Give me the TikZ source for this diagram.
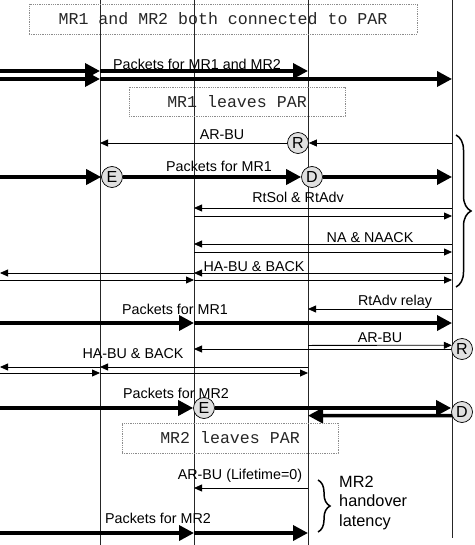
\documentclass[tikz,border=0pt]{standalone}
\usepackage{fontspec}
\setmainfont{Liberation Sans}
\setmonofont{Liberation Mono}
\usetikzlibrary{arrows.meta,decorations.pathreplacing}

\tikzset{
  lifeline/.style={line width=0.8pt, draw=black!85},
  msg/.style={line width=0.8pt, -{Triangle[length=8pt,width=7pt]}},
  data/.style={line width=3.5pt, -{Triangle[length=15pt,width=15pt]}},
  ev/.style={circle, draw, line width=0.7pt, fill=black!12, minimum size=21pt, inner sep=0pt, font=\fontsize{16}{16}\selectfont},
  lbl/.style={inner sep=0pt, font=\fontsize{14.3}{16}\selectfont},
  note/.style={draw=black!45, densely dotted, line width=0.8pt, inner sep=0pt, text=black!85, font=\ttfamily\fontsize{16.6}{18}\selectfont},
  brc/.style={decorate, decoration={brace, amplitude=#1}, line width=1.5pt},
}

\begin{document}
\begin{tikzpicture}[x=1pt,y=-1pt]
\useasboundingbox (0,0) rectangle (474,545);
\def\xa{100}
\def\xb{194}
\def\xc{308}
\def\xd{452}
\foreach \x/\yend in {\xa/545,\xb/545,\xc/545,\xd/538} \draw[lifeline] (\x,0) -- (\x,\yend);

% both on PAR
\node[note, minimum width=388pt, minimum height=30pt] (par) at (223,19) {MR1 and MR2 both connected to PAR};
\node[lbl] (pk12) at (197,64) {Packets for MR1 and MR2};
\draw[data] (0,71) -- (\xa,71);
\draw[data] (\xa,71) -- (\xc,71);
\draw[data] (0,79) -- (\xa,79);
\draw[data] (\xa,79) -- (\xd,79);

% MR1 handover
\node[note, minimum width=216pt, minimum height=29pt] (lv1) at (237,101.5) {MR1 leaves PAR};
\node[ev] (r1) at (298,143) {R};
\node[lbl] (arbu1) at (222,135) {AR-BU};
\draw[msg] (\xd,143) -- (r1);
\draw[msg] (r1) -- (\xa,143);
\node[ev] (e1) at (112,177) {E};
\node[ev] (d1) at (312,177) {D};
\node[lbl] (pk1) at (219,166) {Packets for MR1};
\draw[data] (0,177) -- (e1);
\draw[data] (e1) -- (d1);
\draw[data] (d1) -- (\xd,177);
\node[lbl] (rts) at (298,197) {RtSol \& RtAdv};
\draw[msg] (\xd,208) -- (\xb,208);
\draw[msg] (\xb,216) -- (\xd,216);
\node[lbl] (na) at (370,238) {NA \& NAACK};
\draw[msg] (\xd,244) -- (\xb,244);
\draw[msg] (\xb,252) -- (\xd,252);
\node[lbl] (habu1) at (254,267) {HA-BU \& BACK};
\draw[msg] (\xd,273) -- (\xb,273);
\draw[msg] (\xb,273) -- (0,273);
\draw[msg] (0,280) -- (\xb,280);
\draw[msg] (\xb,280) -- (\xd,280);
\draw[brc=15pt] (456,135) -- (456,287);

% MR2 side
\node[lbl] (relay) at (395,302) {RtAdv relay};
\draw[msg] (\xd,309) -- (\xc,309);
\node[lbl] (pk1b) at (175,309) {Packets for MR1};
\draw[data] (0,323) -- (\xb,323);
\draw[data] (\xb,323) -- (\xd,323);
\node[ev] (r2) at (462,349) {R};
\node[lbl] (arbu2) at (380,338) {AR-BU};
\draw[msg] (\xc,345.4) -- (r2.160);
\draw[msg] (r2.west) -- (\xb,349);
\node[lbl] (habu2) at (133,354) {HA-BU \& BACK};
\draw[msg] (\xc,367) -- (\xa,367);
\draw[msg] (\xa,367) -- (0,367);
\draw[msg] (0,373) -- (\xa,373);
\draw[msg] (\xa,373) -- (\xc,373);
\node[ev] (e2) at (204,408) {E};
\node[ev] (d2) at (462,412) {D};
\node[lbl] (pk2) at (176,393) {Packets for MR2};
\draw[data] (0,408) -- (e2);
\draw[data] (e2) -- (d2.west |- e2);
\draw[data] (d2.200) -- (\xc,415.6);

% MR2 handover
\node[note, minimum width=216pt, minimum height=30pt] (lv2) at (230,438) {MR2 leaves PAR};
\node[lbl] (arbu3) at (240,476) {AR-BU (Lifetime=0)};
\draw[msg] (\xc,488) -- (\xb,488);
\node[lbl] (pk2b) at (158,518) {Packets for MR2};
\draw[data] (0,533) -- (\xb,533);
\draw[data] (\xb,533) -- (\xc,533);
\draw[brc=12pt] (318,480) -- (318,532);
\node[anchor=north west, align=left, inner sep=0pt, font=\fontsize{16.3}{19.4}\selectfont] (lat) at (339,476) {MR2\\handover\\latency};
\end{tikzpicture}
\end{document}
